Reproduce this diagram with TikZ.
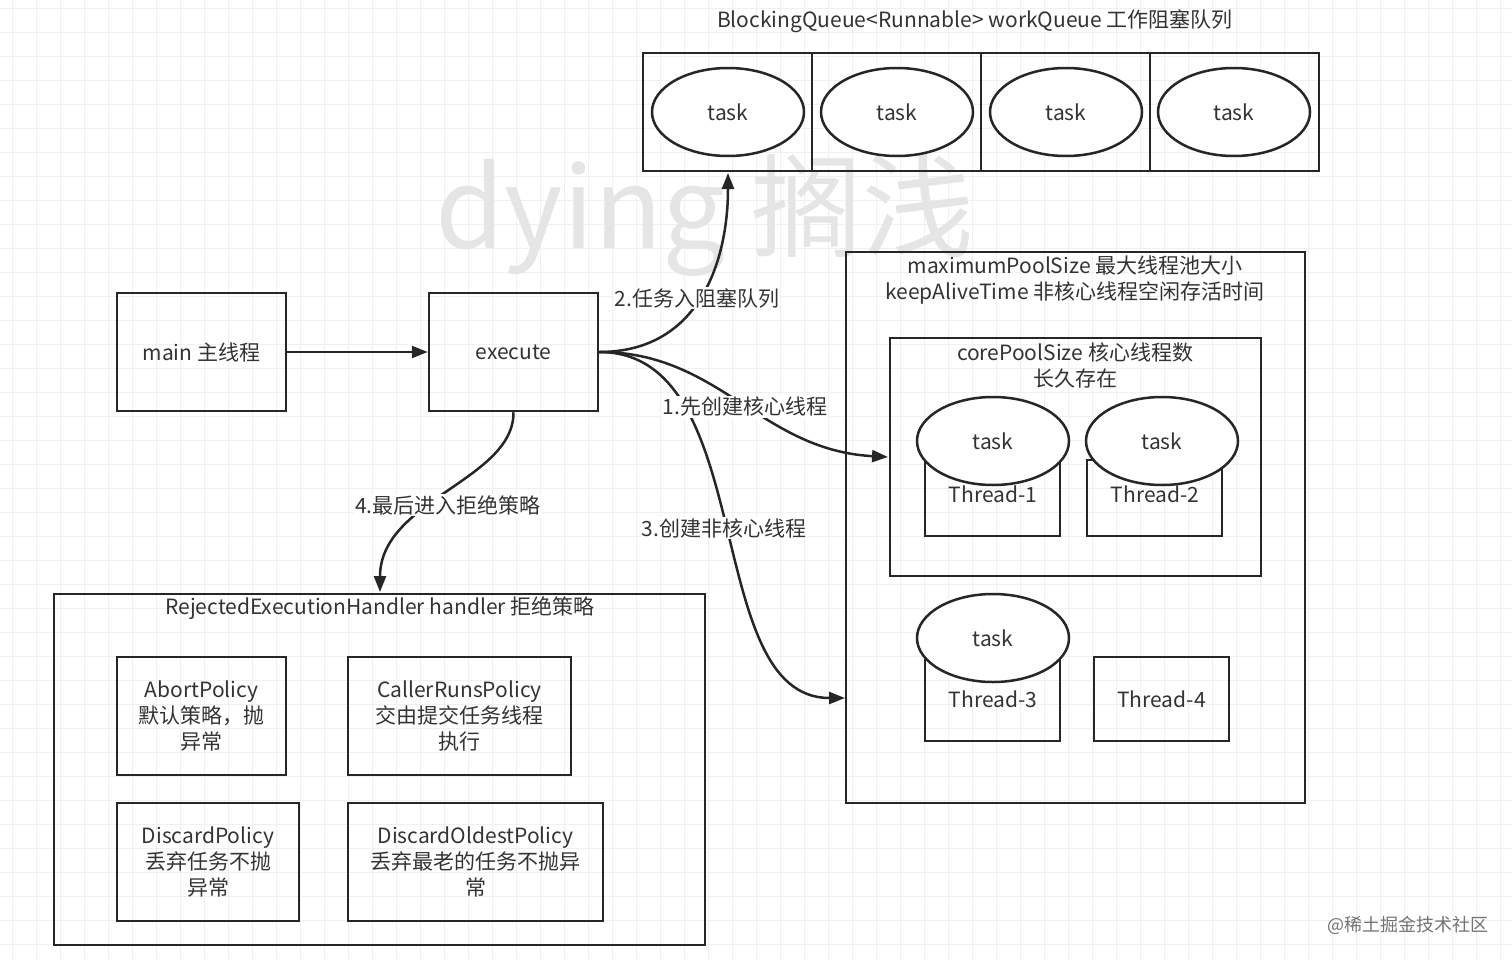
\documentclass[tikz,border=0pt]{standalone}
\usepackage{fontspec}
\setmainfont{Noto Sans CJK SC}
\usetikzlibrary{arrows.meta,shapes.geometric}
\begin{document}
\begin{tikzpicture}[x=1pt,y=-1pt,
  box/.style={draw=black!85,line width=2.5pt},
  ell/.style={draw=black!85,line width=2.5pt,fill=white,ellipse,minimum width=152pt,minimum height=88pt},
  txt/.style={font=\fontsize{21}{26}\selectfont,text=black!80,align=center,inner sep=0pt},
  lab/.style={txt,fill=white,inner sep=1pt},
  con/.style={draw=black!85,line width=2.5pt,-{Triangle[length=16pt,width=12pt]}}]
\fill[white] (0,0) rectangle (1512,961);
\useasboundingbox (0,0) rectangle (1512,961);
\foreach \i in {12,36,...,1512} \draw[black!6,line width=0.8pt] (\i,0) -- (\i,961);
\foreach \j in {8,32,...,961} \draw[black!6,line width=0.8pt] (0,\j) -- (1512,\j);
\node[text=black!10,font=\fontsize{112}{112}\selectfont] (wm) at (705,215) {dying 搁浅};
% queue
\node[txt] (qt) at (975,21) {BlockingQueue<Runnable> workQueue 工作阻塞队列};
\draw[box] (643,53) rectangle (1319,171);
\draw[box] (812,53) -- (812,171) (981,53) -- (981,171) (1150,53) -- (1150,171);
\node[ell,txt] (q1) at (728,112) {task};
\node[ell,txt] (q2) at (897,112) {task};
\node[ell,txt] (q3) at (1066,112) {task};
\node[ell,txt] (q4) at (1234,112) {task};
% main / execute
\node[box,txt,minimum width=169pt,minimum height=118pt] (main) at (201.5,352) {main 主线程};
\node[box,txt,minimum width=169pt,minimum height=118pt] (exe) at (513.5,352) {execute};
\draw[con] (main) -- (exe);
% max pool
\node[box,minimum width=459pt,minimum height=551pt] (max) at (1075.5,527.5) {};
\node[txt] (maxt) at (1075,280) {maximumPoolSize 最大线程池大小\\keepAliveTime 非核心线程空闲存活时间};
\node[box,minimum width=371pt,minimum height=238pt] (core) at (1075.5,457) {};
\node[txt] (coret) at (1075,366) {corePoolSize 核心线程数\\长久存在};
\draw[box] (925,460) rectangle (1060,536);
\node[txt] (t1) at (993,494) {Thread-1};
\node[ell,txt] (e1) at (993,441) {task};
\draw[box] (1087,460) rectangle (1222,536);
\node[txt] (t2) at (1155,494) {Thread-2};
\node[ell,txt] (e2) at (1162,441) {task};
\draw[box] (925,660) rectangle (1060,741);
\node[txt] (t3) at (993,699) {Thread-3};
\node[ell,txt] (e3) at (993,638) {task};
\node[box,txt,minimum width=135pt,minimum height=84pt] (t4) at (1161.5,699) {Thread-4};
% reject
\node[box,minimum width=651pt,minimum height=351pt] (rej) at (379.5,769.5) {};
\node[txt] (rejt) at (380,608) {RejectedExecutionHandler handler 拒绝策略};
\node[box,txt,minimum width=169pt,minimum height=118pt] (p1) at (201.5,716) {AbortPolicy\\默认策略，抛\\异常};
\node[box,txt,minimum width=223pt,minimum height=118pt] (p2) at (459.5,716) {CallerRunsPolicy\\交由提交任务线程\\执行};
\node[box,txt,minimum width=182pt,minimum height=118pt] (p3) at (208,862) {DiscardPolicy\\丢弃任务不抛\\异常};
\node[box,txt,minimum width=255pt,minimum height=118pt] (p4) at (475.5,862) {DiscardOldestPolicy\\丢弃最老的任务不抛异\\常};
% connectors
\coordinate (a2) at (728,173);
\coordinate (a1) at (888,457);
\coordinate (a3) at (845,698);
\coordinate (a4) at (380,592);
\draw[con] (exe.east) .. controls (700,352) and (728,260) .. (a2);
\draw[con] (exe.east) .. controls (720,352) and (760,450) .. (a1);
\draw[con] (exe.east) .. controls (760,352) and (700,698) .. (a3);
\draw[con] (exe.south) .. controls (514,480) and (380,500) .. (a4);
\node[lab] (l2) at (697,298) {2.任务入阻塞队列};
\node[lab] (l1) at (745,407) {1.先创建核心线程};
\node[lab] (l3) at (724,528) {3.创建非核心线程};
\node[lab] (l4) at (448,505) {4.最后进入拒绝策略};
\node[text=black!55,font=\fontsize{18}{18}\selectfont] (wm2) at (1408,925) {@稀土掘金技术社区};
\end{tikzpicture}
\end{document}
